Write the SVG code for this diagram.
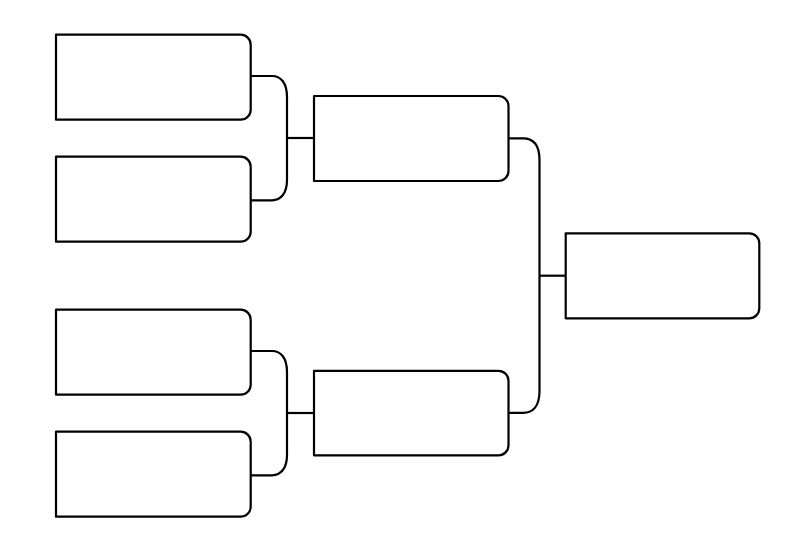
<svg xmlns="http://www.w3.org/2000/svg" width="800" height="552" viewBox="0 0 800 552">
<style>
.box{fill:#fff;stroke:#000;stroke-width:2.2;stroke-linejoin:round}
.con{fill:none;stroke:#000;stroke-width:2.2;stroke-linejoin:round}
</style>
<rect width="800" height="552" fill="#fff"/>
<g id="connectors">
<path class="con" d="M250.7,76 H272 C281,76 287,83 287,97 V180 C287,193 281,200.3 272,200.3 H250.7"/>
<path class="con" d="M287,138 H314"/>
<path class="con" d="M250.7,351 H272 C281,351 287,358 287,372 V455 C287,468 281,475.3 272,475.3 H250.7"/>
<path class="con" d="M287,413 H314"/>
<path class="con" d="M508.5,138.3 H523 C533,138.3 539.5,145 539.5,160 V391 C539.5,406 533,412.8 523,412.8 H508.5"/>
<path class="con" d="M539.5,275.7 H565.7"/>
</g>
<g id="n1"><path class="box" d="M56,34.7 H240.7 A10,10 0 0 1 250.7,44.7 V109.7 A10,10 0 0 1 240.7,119.7 H56 Z"/></g>
<g id="n2"><path class="box" d="M56,156.7 H240.7 A10,10 0 0 1 250.7,166.7 V231.7 A10,10 0 0 1 240.7,241.7 H56 Z"/></g>
<g id="n3"><path class="box" d="M56,309.7 H240.7 A10,10 0 0 1 250.7,319.7 V384.7 A10,10 0 0 1 240.7,394.7 H56 Z"/></g>
<g id="n4"><path class="box" d="M56,431.7 H240.7 A10,10 0 0 1 250.7,441.7 V506.7 A10,10 0 0 1 240.7,516.7 H56 Z"/></g>
<g id="n5"><path class="box" d="M314,96 H498.5 A10,10 0 0 1 508.5,106 V171 A10,10 0 0 1 498.5,181 H314 Z"/></g>
<g id="n6"><path class="box" d="M314,370.8 H498.5 A10,10 0 0 1 508.5,380.8 V445.3 A10,10 0 0 1 498.5,455.3 H314 Z"/></g>
<g id="n7"><path class="box" d="M565.7,233.3 H749.3 A10,10 0 0 1 759.3,243.3 V308.3 A10,10 0 0 1 749.3,318.3 H565.7 Z"/></g>
</svg>
